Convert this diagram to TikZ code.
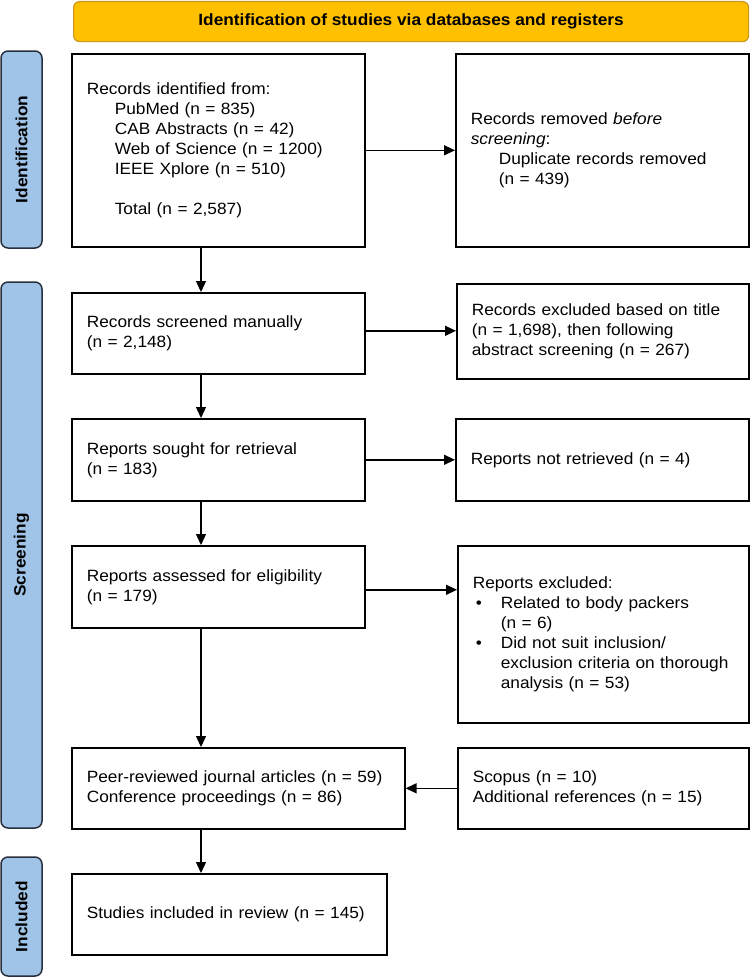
\documentclass[tikz,border=0pt]{standalone}
\usepackage{fontspec}
\setmainfont[FakeStretch=1.06]{Liberation Sans}
\usetikzlibrary{arrows.meta}
\definecolor{bannerfill}{RGB}{255,192,0}
\definecolor{bannerdraw}{RGB}{205,150,30}
\definecolor{sidefill}{RGB}{160,196,232}
\definecolor{sidedraw}{RGB}{40,48,64}
\begin{document}
\begin{tikzpicture}[x=1pt,y=-1pt,
  txt/.style={font=\fontsize{16.3}{20}\selectfont},
  box/.style={draw=black, line width=1.6pt, txt, align=left, inner xsep=15pt, inner ysep=0pt, anchor=north west},
  banner/.style={draw=bannerdraw, fill=bannerfill, line width=1.2pt, rounded corners=6pt, font=\fontsize{16.3}{20}\selectfont\bfseries, anchor=north west, inner sep=0pt},
  side/.style={draw=sidedraw, fill=sidefill, line width=1.5pt, rounded corners=7pt, rotate=90, font=\fontsize{16.3}{20}\selectfont\bfseries, inner sep=0pt},
  arr/.style={line width=1.4pt, -{Triangle[length=11pt,width=10pt]}}
]
\useasboundingbox (0,0) rectangle (750,977);
\fill[white] (0,0) rectangle (750,977);

\node[banner, minimum width=675pt, minimum height=40pt] (ban) at (73,1) {Identification of studies via databases and registers};

\node[side, minimum width=197pt, minimum height=41pt] (sI) at (21.5,149.5) {Identification};
\node[side, minimum width=546pt, minimum height=41pt] (sS) at (21.5,555) {Screening};
\node[side, minimum width=119pt, minimum height=41pt] (sInc) at (21.5,916.5) {Included};

\node[box, minimum width=293pt, minimum height=193pt, text width=263pt] (b1) at (71,53)
 {Records identified from:\\
  \hspace*{28pt}PubMed (n = 835)\\
  \hspace*{28pt}CAB Abstracts (n = 42)\\
  \hspace*{28pt}Web of Science (n = 1200)\\
  \hspace*{28pt}IEEE Xplore (n = 510)\\[20pt]
  \hspace*{28pt}Total (n = 2,587)};
\node[box, minimum width=293pt, minimum height=193pt, text width=263pt] (b2) at (455,53)
 {Records removed \textit{before}\\
  \textit{screening}:\\
  \hspace*{28pt}Duplicate records removed\\
  \hspace*{28pt}(n = 439)};

\node[box, minimum width=293pt, minimum height=81pt, text width=263pt] (b3) at (71,292)
 {Records screened manually\\(n = 2,148)};
\node[box, minimum width=292pt, minimum height=95pt, text width=262pt] (b4) at (456,283)
 {Records excluded based on title\\(n = 1,698), then following\\abstract screening (n = 267)};

\node[box, minimum width=293pt, minimum height=82pt, text width=263pt] (b5) at (71,418)
 {Reports sought for retrieval\\(n = 183)};
\node[box, minimum width=293pt, minimum height=82pt, text width=263pt] (b6) at (455,418)
 {Reports not retrieved (n = 4)};

\node[box, minimum width=293pt, minimum height=82pt, text width=263pt] (b7) at (71,545)
 {Reports assessed for eligibility\\(n = 179)};
\node[box, minimum width=291pt, minimum height=177pt, text width=261pt] (b8) at (457,545)
 {Reports excluded:\\
  \makebox[28pt][l]{\hspace*{3pt}\textbullet}Related to body packers\\
  \hspace*{28pt}(n = 6)\\
  \makebox[28pt][l]{\hspace*{3pt}\textbullet}Did not suit inclusion/\\
  \hspace*{28pt}exclusion criteria on thorough\\
  \hspace*{28pt}analysis (n = 53)};

\node[box, minimum width=333pt, minimum height=81pt, text width=303pt] (b9) at (71,747)
 {Peer-reviewed journal articles (n = 59)\\Conference proceedings (n = 86)};
\node[box, minimum width=291pt, minimum height=81pt, text width=261pt] (b10) at (457,747)
 {Scopus (n = 10)\\Additional references (n = 15)};

\node[box, minimum width=315pt, minimum height=81pt, text width=285pt] (b11) at (71,873)
 {Studies included in review (n = 145)};

\coordinate (colx) at (201,0);
\coordinate (r3) at ([yshift=2.5pt]b3.east);
\coordinate (r7) at ([yshift=-3pt]b7.east);
\draw[arr] (b1.east) -- (b2.west);
\draw[arr] (b1.south -| colx) -- (b3.north -| colx);
\draw[arr] (r3) -- (r3 -| b4.west);
\draw[arr] (b3.south -| colx) -- (b5.north -| colx);
\draw[arr] (b5.east) -- (b6.west);
\draw[arr] (b5.south -| colx) -- (b7.north -| colx);
\draw[arr] (r7) -- (r7 -| b8.west);
\draw[arr] (b7.south -| colx) -- (b9.north -| colx);
\draw[arr] (b10.west) -- (b9.east);
\draw[arr] (b9.south -| colx) -- (b11.north -| colx);
\end{tikzpicture}
\end{document}
